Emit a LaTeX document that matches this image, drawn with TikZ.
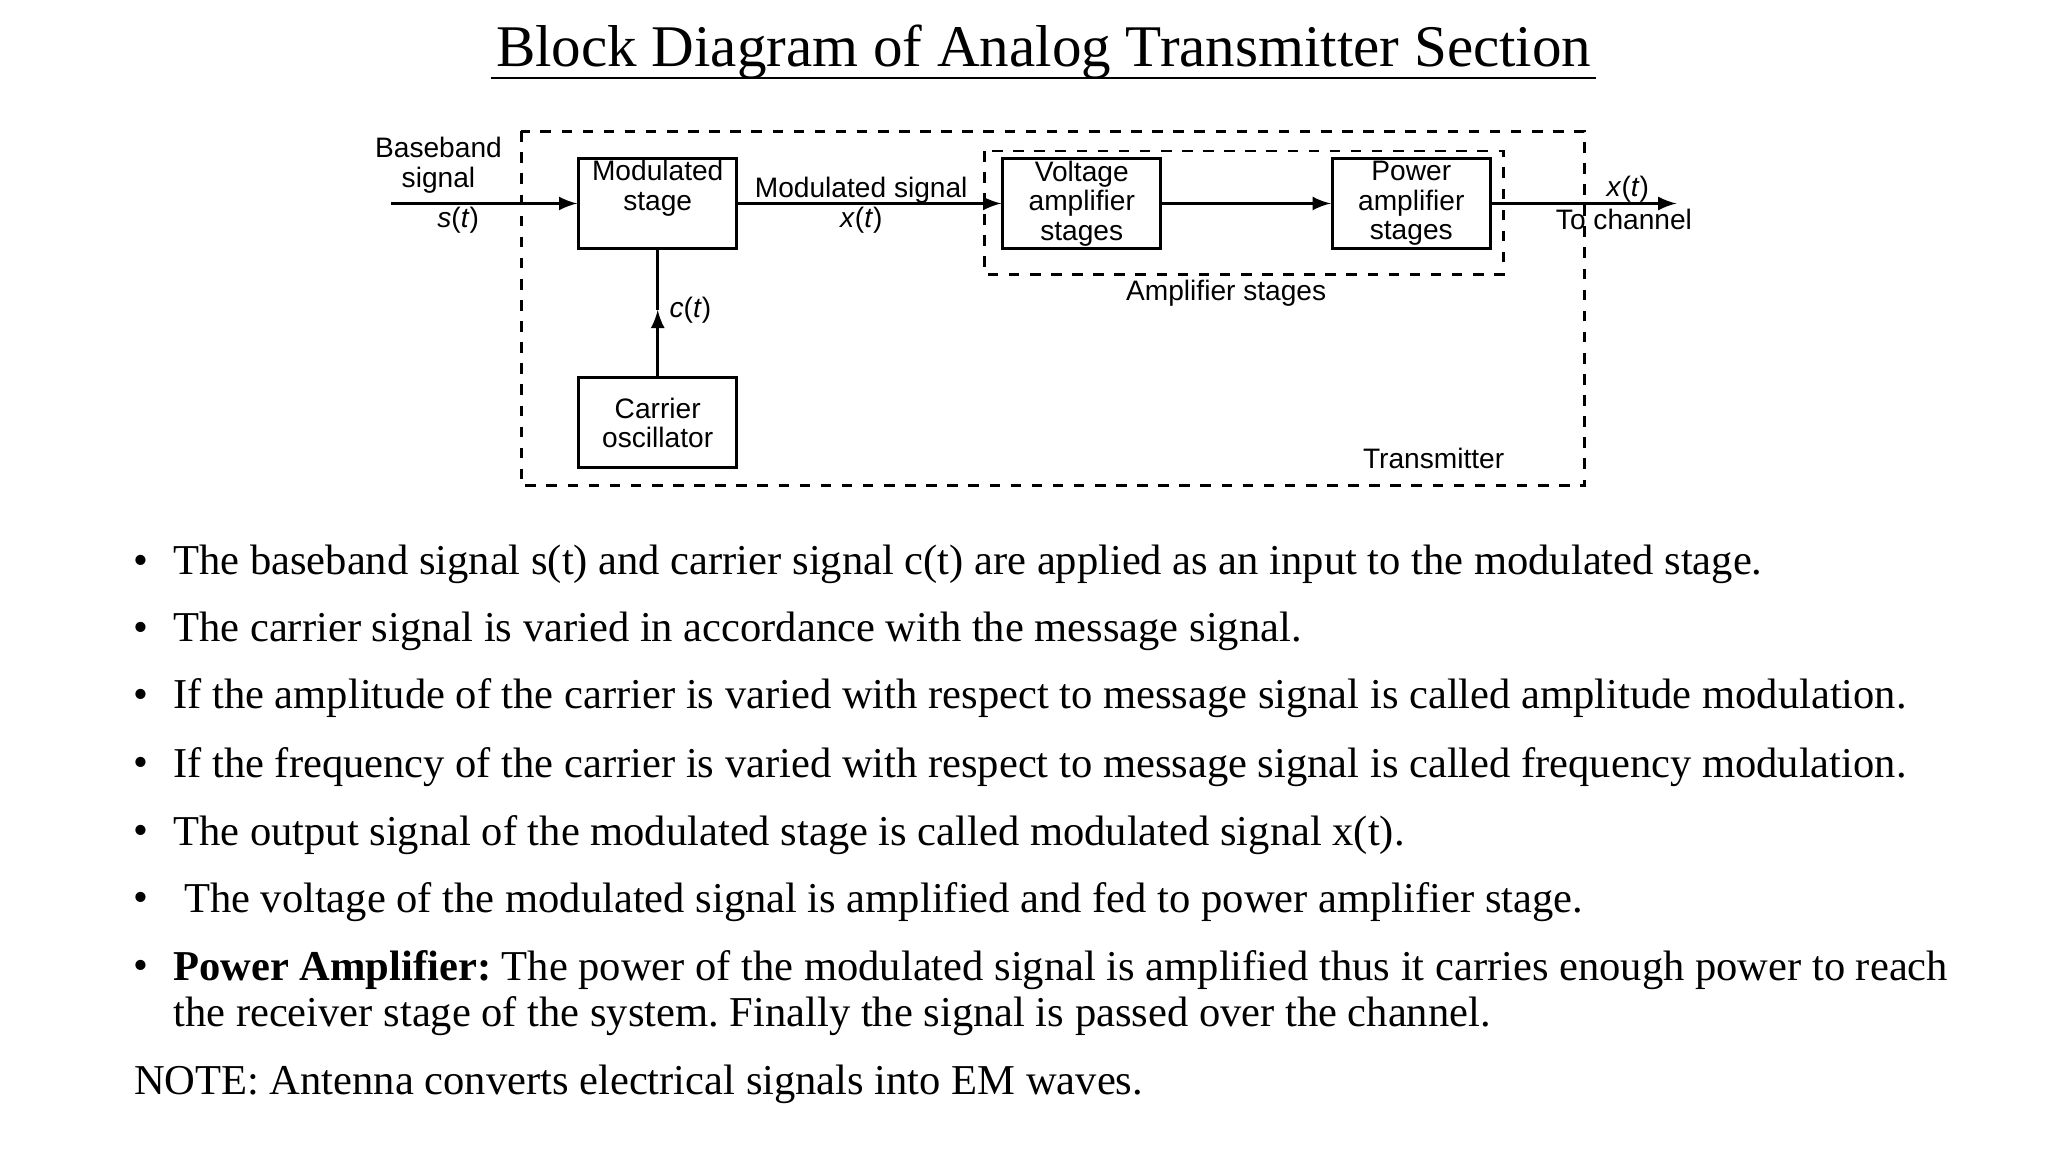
\documentclass[tikz,border=0pt]{standalone}
\usepackage{fontspec}
\setmainfont{Liberation Serif}
\newfontfamily\diag{Liberation Sans}
\frenchspacing
\usetikzlibrary{positioning}
\newcommand{\sig}[1]{\textit{#1}(\textit{t})}
\tikzset{
  blk/.style={draw, thick, minimum width=1.58cm, minimum height=0.9cm, align=center, font=\diag\fontsize{8}{8.4}\selectfont, inner sep=0pt},
  lbl/.style={align=center, font=\diag\fontsize{8}{8.6}\selectfont, inner sep=1pt},
  frame/.style={draw, dashed, thick},
  txt/.style={anchor=west, font=\fontsize{12.1}{14}\selectfont, inner sep=0pt},
  bul/.style={font=\fontsize{12.1}{14}\selectfont, inner sep=0pt}
}
\begin{document}
\begin{tikzpicture}[x=0.01313cm, y=-0.01313cm, >=latex, thick]
		\useasboundingbox (0,0) rectangle (1560,877);
		\node[inner sep=1pt] (title) at (795,40) {\fontsize{16.8}{18}\selectfont Block Diagram of Analog Transmitter Section};
		\draw[semithick] ([yshift=2pt]title.south west) -- ([yshift=2pt]title.south east);
		
		\draw[frame] (397,100) rectangle (1207,370);
		\draw[frame] (750,115) rectangle (1145,209);
		
		\node[blk] (mod) at (501,155) {Modulated\\stage\\[2pt]~};
		\node[blk] (volt) at (824,155) {Voltage\\amplifier\\stages};
		\node[blk] (pow) at (1075,155) {Power\\amplifier\\stages};
		\node[blk] (osc) at (501,322) {Carrier\\oscillator};
		
		\coordinate (in) at (298,155);
		\coordinate (out) at (1277,155);
		\coordinate (ct) at (501,236);
		
		\draw[->] (in) -- (mod);
		\draw[->] (mod) -- (volt);
		\draw[->] (volt) -- (pow);
		\draw[->] (pow) -- (out);
		\draw[->] (osc.north) -- (ct);
		\draw (ct) -- (mod.south);
		
		\node[lbl] (bb) at (334,126) {Baseband\\signal};
		\node[lbl] (st) at (349,168) {\sig{s}};
		\node[lbl] (ms) at (656,145) {Modulated signal};
		\node[lbl] (xt) at (656,168) {\sig{x}};
		\node[lbl] (xo) at (1240,144) {\sig{x}};
		\node[lbl] (tc) at (1237,167) {To channel};
		\node[lbl, right=2pt of ct] (ctl) {\sig{c}};
		\node[lbl] (amp) at (934,223) {Amplifier stages};
		\node[lbl] (tx) at (1092,349) {Transmitter};
		
		% bullet points
		\foreach \y/\t in {430/{The baseband signal s(t) and carrier signal c(t) are applied as an input to the modulated stage.},
			481/{The carrier signal is varied in accordance with the message signal.},
			532/{If the amplitude of the carrier is varied with respect to message signal is called amplitude modulation.},
			584/{If the frequency of the carrier is varied with respect to message signal is called frequency modulation.},
			636/{The output signal of the modulated stage is called modulated signal x(t).},
			687/{\ The voltage of the modulated signal is amplified and fed to power amplifier stage.},
			739/{\textbf{Power Amplifier:} The power of the modulated signal is amplified thus it carries enough power to reach}}
		{
			\node[bul] at (107,\y) {\textbullet};
			\node[txt] at (131,\y) {\t};
		}
		\node[txt] (cont) at (131,774) {the receiver stage of the system. Finally the signal is passed over the channel.};
		\node[txt] (note) at (101,826) {NOTE: Antenna converts electrical signals into EM waves.};
	\end{tikzpicture}
\end{document}
